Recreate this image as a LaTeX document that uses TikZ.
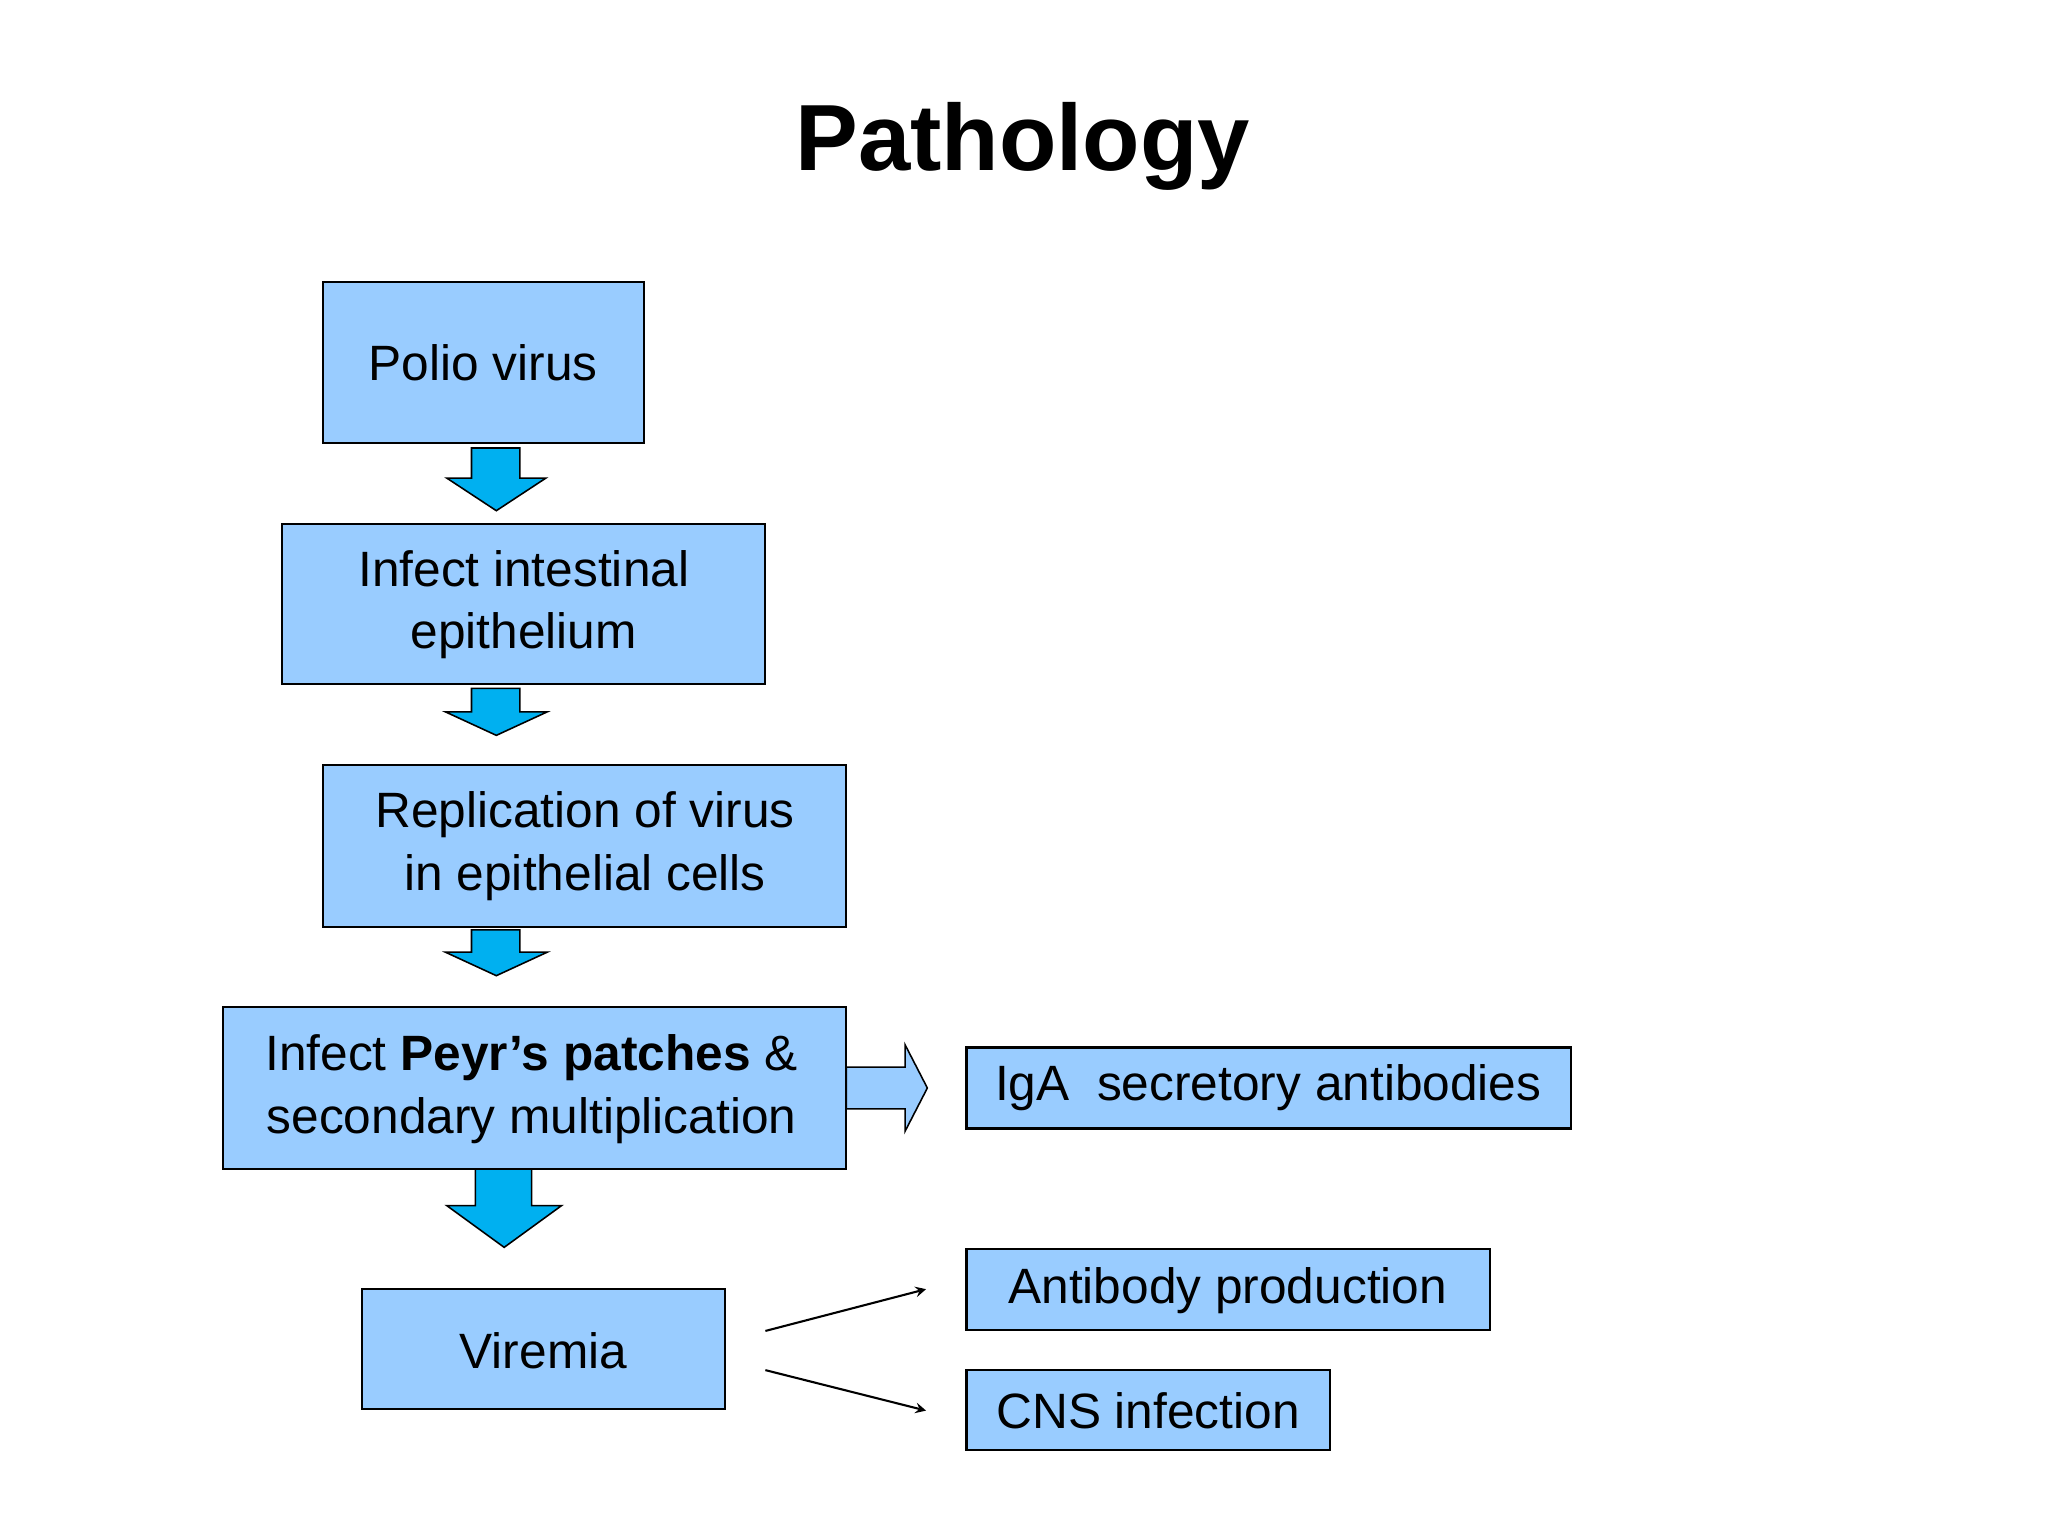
\documentclass[tikz,border=0pt]{standalone}
\usepackage{fontspec}
\setmainfont{Liberation Sans}
\usetikzlibrary{calc}
\definecolor{boxblue}{HTML}{99CCFF}
\definecolor{arrcyan}{HTML}{00B0F0}
\begin{document}
\begin{tikzpicture}[x=0.5pt,y=-0.5pt,
  box/.style={draw=black,fill=boxblue,line width=0.8pt},
  txt/.style={font=\fontsize{19}{24}\selectfont,align=center},
  blk/.style={draw=black,fill=arrcyan,line width=0.6pt}]
\useasboundingbox[fill=white] (0,0) rectangle (1568,1176);
\node[font=\fontsize{36}{40}\selectfont\bfseries] (title) at (783,112) {Pathology};
% boxes
\draw[box] (247,216) rectangle (493,339); \node[txt] (polio) at (370,278) {Polio virus};
\draw[box] (216,401) rectangle (586,524); \node[txt] (infect) at (401,463) {Infect intestinal\\ epithelium};
\draw[box] (247,586) rectangle (648,710); \node[txt] (repl) at (448,648) {Replication of virus\\ in epithelial cells};
\draw[box] (171,771) rectangle (648,895); \node[txt] (peyr) at (407,834) {Infect \textbf{Peyr's patches} \&\\ secondary multiplication};
\draw[box] (277,987) rectangle (555,1079); \node[txt] (vir) at (416,1034) {Viremia};
\draw[box] (740,802) rectangle (1203,864); \node[txt] (iga) at (971,833) {IgA\ \ secretory antibodies};
\draw[box] (740,956) rectangle (1141,1018); \node[txt] (ab) at (940,988) {Antibody production};
\draw[box] (740,1049) rectangle (1018,1110); \node[txt] (cns) at (879,1080) {CNS infection};
% block arrows
\draw[blk] (361,343)--(398,343)--(398,366)--(418,366)--(380,391)--(342,366)--(361,366)--cycle;
\draw[blk] (361,527)--(398,527)--(398,545)--(419,545)--(380,563)--(341,545)--(361,545)--cycle;
\draw[blk] (361,712)--(398,712)--(398,729)--(419,729)--(380,747)--(341,729)--(361,729)--cycle;
\draw[blk] (364,895)--(407,895)--(407,923)--(430,923)--(386,955)--(342,923)--(364,923)--cycle;
\draw[draw=black,fill=boxblue,line width=0.6pt] (648,817)--(693,817)--(693,800)--(710,833)--(693,866)--(693,849)--(648,849)--cycle;
% thin arrows
\coordinate (s1) at (586,1019); \coordinate (e1) at (709,987);
\coordinate (s2) at (586,1049); \coordinate (e2) at (709,1080);
\draw[-stealth,line width=0.8pt] (s1)--(e1);
\draw[-stealth,line width=0.8pt] (s2)--(e2);
\end{tikzpicture}
\end{document}
